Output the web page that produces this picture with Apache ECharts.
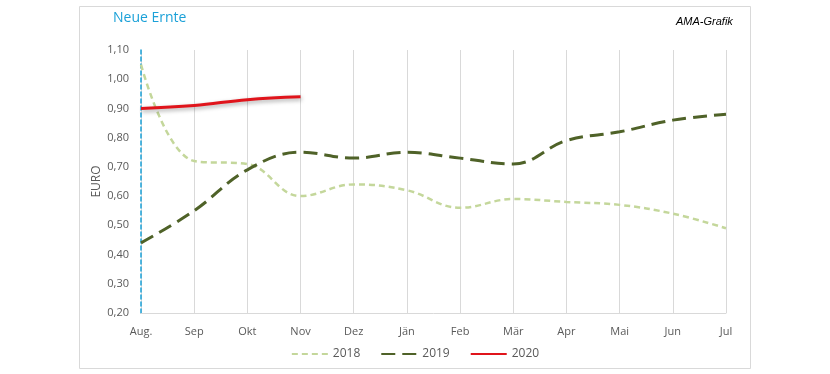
<!DOCTYPE html>
<html>
<head>
<meta charset="utf-8">
<script src="https://cdn.jsdelivr.net/npm/echarts@6/dist/echarts.min.js"></script>
<style>
html,body{margin:0;padding:0;background:#fff;}
#chart{width:830px;height:374px;}
</style>
</head>
<body>
<div id="chart"></div>
<script>
const months = ['Aug.','Sep','Okt','Nov','Dez','Jän','Feb','Mär','Apr','Mai','Jun','Jul'];
const yTicks = [0.2,0.3,0.4,0.5,0.6,0.7,0.8,0.9,1.0,1.1];
const s2018 = [1.05,0.72,0.71,0.60,0.64,0.62,0.56,0.59,0.58,0.57,0.54,0.49];
const s2019 = [0.44,0.55,0.69,0.75,0.73,0.75,0.73,0.71,0.79,0.82,0.86,0.88];
const s2020 = [0.90,0.91,0.93,0.94];

const font = '"Open Sans", sans-serif';
const chart = echarts.init(document.getElementById('chart'), null, {renderer:'canvas'});
chart.setOption({
  animation:false,
  backgroundColor:'#fff',
  textStyle:{fontFamily:font},
  grid:{left:141,right:104,top:50,bottom:61,containLabel:false},
  graphic:[
    {type:'rect',shape:{x:79.5,y:6.5,width:671,height:362},style:{fill:'none',stroke:'#d9d9d9',lineWidth:1},z:-1},
    {type:'text',left:113,top:11,style:{text:'Neue Ernte',fill:'#1ba1d8',font:'14px '+font}},
    {type:'text',left:676,top:16,style:{text:'AMA-Grafik',fill:'#000',font:'italic 11px "Liberation Sans", Arial, sans-serif'}}
  ],
  legend:{
    bottom:9,left:'center',itemWidth:36,itemHeight:10,itemGap:20,
    itemStyle:{opacity:0},
    textStyle:{color:'#595959',fontSize:12,fontFamily:font},
    data:['2018','2019','2020']
  },
  xAxis:{
    type:'category',data:months,boundaryGap:false,
    axisLine:{show:true,lineStyle:{color:'#d9d9d9'}},
    axisTick:{show:false},
    axisLabel:{color:'#595959',fontSize:11,margin:13},
    splitLine:{show:true,lineStyle:{color:'#d9d9d9',width:1}}
  },
  yAxis:{
    type:'value',min:0.2,max:1.1,interval:0.1,
    name:'EURO',nameLocation:'middle',nameGap:38,nameRotate:90,nameMoveOverlap:false,
    nameTextStyle:{color:'#595959',fontSize:12},
    axisLine:{show:true,lineStyle:{color:'#1ba1d8',type:[4,3],width:1.5}},
    axisTick:{show:false},
    splitLine:{show:false},
    axisLabel:{color:'#595959',fontSize:11,margin:12,formatter:v=>{
      const t = yTicks.find(x=>Math.abs(x-v)<1e-6);
      return (t!==undefined?t:v).toFixed(2).replace('.',',');
    }}
  },
  series:[
    {name:'2018',type:'line',data:s2018,smooth:0.4,symbol:'none',
     lineStyle:{color:'#c4d79b',width:2.5,type:[6,4]},itemStyle:{color:'#c4d79b'}},
    {name:'2019',type:'line',data:s2019,smooth:0.4,symbol:'none',
     lineStyle:{color:'#4f6228',width:3,type:[14,7]},itemStyle:{color:'#4f6228'}},
    {name:'2020',type:'line',data:s2020,smooth:0.4,symbol:'none',
     lineStyle:{color:'#e0141b',width:3,shadowColor:'rgba(0,0,0,0.35)',shadowBlur:4,shadowOffsetX:1,shadowOffsetY:2},
     itemStyle:{color:'#e0141b'}}
  ]
});
</script>
</body>
</html>
